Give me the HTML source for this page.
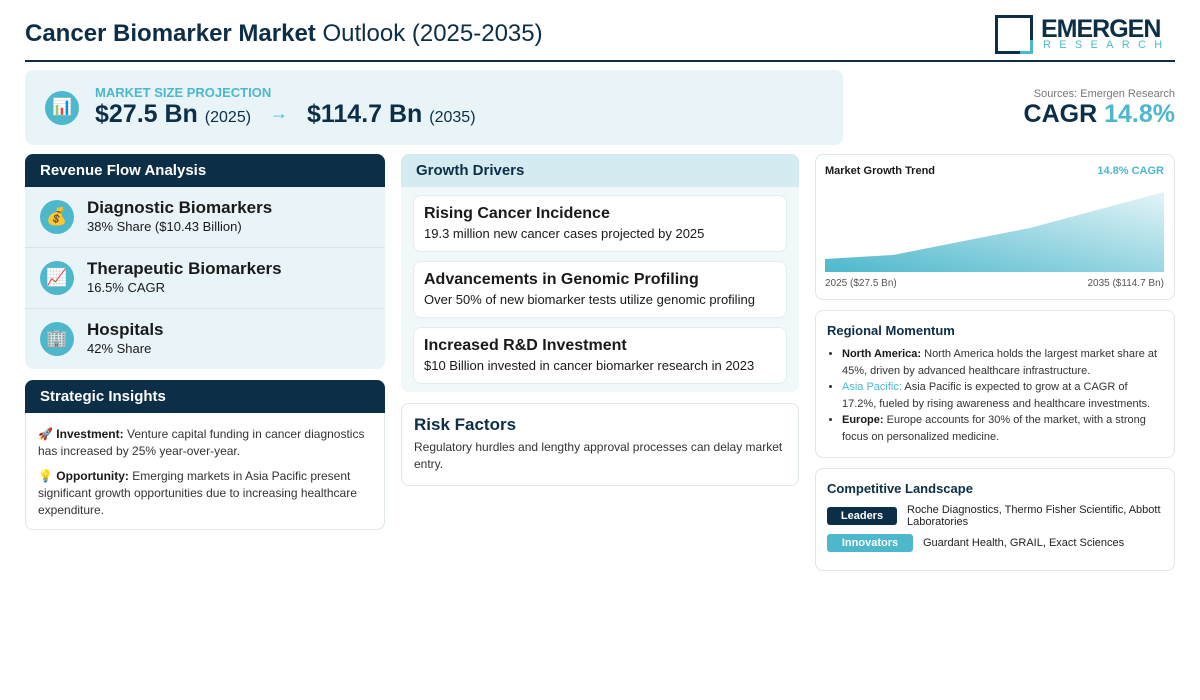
<!DOCTYPE html>
<html><head><meta charset="utf-8"><style>
*{margin:0;padding:0;box-sizing:border-box}
body{width:1200px;height:700px;background:#fff;font-family:"Liberation Sans","Noto Sans CJK SC",sans-serif;position:relative;overflow:hidden;color:#1a1a1a}
.a{position:absolute}
.dark{color:#0d2e47}
.teal{color:#4db8cc}
.circ{position:absolute;width:34px;height:34px;border-radius:50%;background:#4db8cc;text-align:center;line-height:34px;font-size:17px}
.card{position:absolute;background:#fff;border:1px solid #dde6ea;border-radius:8px}
.hdr{position:absolute;left:0;right:0;top:0;height:33px;border-radius:8px 8px 0 0;padding-left:15px;line-height:33px;font-size:15px;font-weight:bold}
</style></head><body>
<div class="a dark" style="left:25px;top:20px;font-size:24px;white-space:nowrap"><b>Cancer Biomarker Market</b> Outlook (2025-2035)</div>
<div class="a" style="left:25px;top:60px;width:1150px;height:2px;background:#0d2e47"></div>
<!-- logo -->
<div class="a" style="left:995px;top:15px;width:38px;height:39px;border:3px solid #0d2e47"></div>
<div class="a" style="left:1020px;top:40px;width:13px;height:14px;border-right:3px solid #4db8cc;border-bottom:3px solid #4db8cc"></div>
<div class="a dark" style="left:1041px;top:15px;font-size:25px;font-weight:bold;letter-spacing:-1px">EMERGEN</div>
<div class="a teal" style="left:1043px;top:39px;font-size:11px;letter-spacing:8.3px">RESEARCH</div>
<!-- projection -->
<div class="a" style="left:25px;top:70px;width:818px;height:75px;background:#e8f4f8;border-radius:8px"></div>
<div class="circ" style="left:45px;top:91px;font-size:16px">📊</div>
<div class="a teal" style="left:95px;top:85px;font-size:13px;font-weight:bold">MARKET SIZE PROJECTION</div>
<div class="a dark" style="left:95px;top:100px;font-size:25px;white-space:nowrap"><b>$27.5 Bn</b> <span style="font-size:16px">(2025)</span> <span class="teal" style="font-size:18px;margin:0 12px;position:relative;top:-3px">→</span> <b>$114.7 Bn</b> <span style="font-size:16px">(2035)</span></div>
<div class="a" style="right:25px;top:88px;font-size:11px;color:#777">Sources: Emergen Research</div>
<div class="a dark" style="right:25px;top:100px;font-size:25px;font-weight:bold">CAGR <span class="teal">14.8%</span></div>
<!-- revenue -->
<div class="a" style="left:25px;top:154px;width:360px;height:215px;background:#e8f4f8;border-radius:8px"></div>
<div class="hdr" style="left:25px;top:154px;width:360px;background:#0d2e47;color:#fff">Revenue Flow Analysis</div>
<div class="a" style="left:25px;top:247px;width:360px;height:1px;background:#d6e4ea"></div>
<div class="a" style="left:25px;top:308px;width:360px;height:1px;background:#d6e4ea"></div>
<div class="circ" style="left:40px;top:200px">💰</div>
<div class="a" style="left:87px;top:198px;font-size:17px;font-weight:bold">Diagnostic Biomarkers</div>
<div class="a" style="left:87px;top:219px;font-size:13px">38% Share ($10.43 Billion)</div>
<div class="circ" style="left:40px;top:261px">📈</div>
<div class="a" style="left:87px;top:259px;font-size:17px;font-weight:bold">Therapeutic Biomarkers</div>
<div class="a" style="left:87px;top:280px;font-size:13px">16.5% CAGR</div>
<div class="circ" style="left:40px;top:322px">🏢</div>
<div class="a" style="left:87px;top:320px;font-size:17px;font-weight:bold">Hospitals</div>
<div class="a" style="left:87px;top:341px;font-size:13px">42% Share</div>
<!-- strategic -->
<div class="card" style="left:25px;top:380px;width:360px;height:150px"></div>
<div class="hdr" style="left:25px;top:380px;width:360px;background:#0d2e47;color:#fff">Strategic Insights</div>
<div class="a" style="left:38px;top:426px;width:340px;font-size:12px;line-height:17px;color:#333">🚀 <b style="color:#1a1a1a">Investment:</b> Venture capital funding in cancer diagnostics has increased by 25% year-over-year.</div>
<div class="a" style="left:38px;top:468px;width:340px;font-size:12px;line-height:17px;color:#333">💡 <b style="color:#1a1a1a">Opportunity:</b> Emerging markets in Asia Pacific present significant growth opportunities due to increasing healthcare expenditure.</div>
<!-- growth drivers -->
<div class="a" style="left:401px;top:154px;width:398px;height:238px;background:#f1f8fa;border-radius:8px"></div>
<div class="hdr" style="left:401px;top:154px;width:398px;background:#d4ebf2;color:#0d2e47">Growth Drivers</div>
<div class="card" style="left:413px;top:195px;width:374px;height:57px;border-color:#e3ecef"></div>
<div class="a" style="left:424px;top:205px;font-size:16px;font-weight:bold">Rising Cancer Incidence</div>
<div class="a" style="left:424px;top:226px;font-size:13px">19.3 million new cancer cases projected by 2025</div>
<div class="card" style="left:413px;top:261px;width:374px;height:57px;border-color:#e3ecef"></div>
<div class="a" style="left:424px;top:271px;font-size:16px;font-weight:bold">Advancements in Genomic Profiling</div>
<div class="a" style="left:424px;top:292px;font-size:13px">Over 50% of new biomarker tests utilize genomic profiling</div>
<div class="card" style="left:413px;top:327px;width:374px;height:57px;border-color:#e3ecef"></div>
<div class="a" style="left:424px;top:337px;font-size:16px;font-weight:bold">Increased R&amp;D Investment</div>
<div class="a" style="left:424px;top:358px;font-size:13px">$10 Billion invested in cancer biomarker research in 2023</div>
<div class="card" style="left:401px;top:403px;width:398px;height:83px"></div>
<div class="a dark" style="left:414px;top:415px;font-size:17px;font-weight:bold">Risk Factors</div>
<div class="a" style="left:414px;top:439px;width:380px;font-size:12px;line-height:17px;color:#333">Regulatory hurdles and lengthy approval processes can delay market entry.</div>
<!-- trend -->
<div class="card" style="left:815px;top:154px;width:360px;height:146px"></div>
<div class="a" style="left:825px;top:165px;font-size:11px;font-weight:bold">Market Growth Trend</div>
<div class="a teal" style="right:36px;top:165px;font-size:11px;font-weight:bold">14.8% CAGR</div>
<svg class="a" style="left:825px;top:185px" width="340" height="90"><defs><linearGradient id="g" x1="0" y1="1" x2="1" y2="0"><stop offset="0" stop-color="#4db8cc"/><stop offset="1" stop-color="#4db8cc" stop-opacity="0.15"/></linearGradient></defs><path d="M0 74 L68 70 L205 43 L339 7 L339 87 L0 87Z" fill="url(#g)"/></svg>
<div class="a" style="left:825px;top:278px;font-size:10px;color:#555">2025 ($27.5 Bn)</div>
<div class="a" style="right:36px;top:278px;font-size:10px;color:#555">2035 ($114.7 Bn)</div>
<!-- regional -->
<div class="card" style="left:815px;top:310px;width:360px;height:148px"></div>
<div class="a dark" style="left:827px;top:323px;font-size:13px;font-weight:bold">Regional Momentum</div>
<ul class="a" style="left:842px;top:346px;width:316px;font-size:11px;line-height:16.6px;color:#333">
<li><b style="color:#1a1a1a">North America:</b> North America holds the largest market share at 45%, driven by advanced healthcare infrastructure.</li>
<li><span class="teal">Asia Pacific:</span> Asia Pacific is expected to grow at a CAGR of 17.2%, fueled by rising awareness and healthcare investments.</li>
<li><b style="color:#1a1a1a">Europe:</b> Europe accounts for 30% of the market, with a strong focus on personalized medicine.</li>
</ul>
<!-- competitive -->
<div class="card" style="left:815px;top:468px;width:360px;height:103px"></div>
<div class="a dark" style="left:827px;top:481px;font-size:13px;font-weight:bold">Competitive Landscape</div>
<div class="a" style="left:827px;top:507px;width:70px;height:18px;background:#0d2e47;color:#fff;border-radius:3px;font-size:11px;font-weight:bold;text-align:center;line-height:18px">Leaders</div>
<div class="a" style="left:907px;top:504px;width:262px;font-size:11px;line-height:12px;color:#222">Roche Diagnostics, Thermo Fisher Scientific, Abbott Laboratories</div>
<div class="a" style="left:827px;top:534px;width:86px;height:18px;background:#4db8cc;color:#fff;border-radius:3px;font-size:11px;font-weight:bold;text-align:center;line-height:18px">Innovators</div>
<div class="a" style="left:923px;top:537px;font-size:11px;color:#222">Guardant Health, GRAIL, Exact Sciences</div>
</body></html>
